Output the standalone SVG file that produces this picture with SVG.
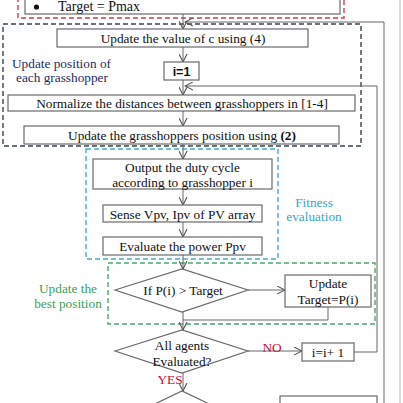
<svg xmlns="http://www.w3.org/2000/svg" width="403" height="403" viewBox="0 0 403 403">
<defs>
<style>
.box{fill:#fff;stroke:#6a6a6a;stroke-width:1.2}
.t{font-family:"Liberation Serif","Times New Roman",serif;font-size:13.3px;fill:#111;text-anchor:middle}
.c{fill:none;stroke:#666;stroke-width:1}
.dash{fill:none;stroke-width:1.4;stroke-dasharray:5,3}
</style>
<marker id="ah" viewBox="0 0 10 10" refX="9" refY="5" markerWidth="9" markerHeight="9" markerUnits="userSpaceOnUse" orient="auto">
<path d="M0,0.5 L9,5 L0,9.5" fill="none" stroke="#555" stroke-width="1.2"/>
</marker>
</defs>
<rect width="403" height="403" fill="#fff"/>
<line x1="400" y1="0" x2="400" y2="403" stroke="#bbb" stroke-width="1"/>

<g id="groups">
<rect x="18" y="-10" width="326" height="28" class="dash" stroke="#d23a52"/>
<rect x="3" y="24" width="358" height="122" class="dash" stroke="#3a4458"/>
<rect x="86" y="149" width="192" height="110" class="dash" stroke="#48aac8"/>
<rect x="108" y="263" width="267" height="61" class="dash" stroke="#4fa46c"/>
</g>

<g id="connectors">
<line x1="183" y1="14" x2="183" y2="29" class="c" marker-end="url(#ah)"/>
<line x1="183" y1="47" x2="183" y2="62" class="c" marker-end="url(#ah)"/>
<line x1="183" y1="80" x2="183" y2="95" class="c" marker-end="url(#ah)"/>
<line x1="183" y1="111" x2="183" y2="126" class="c" marker-end="url(#ah)"/>
<line x1="183" y1="144" x2="183" y2="159" class="c" marker-end="url(#ah)"/>
<line x1="183" y1="189" x2="183" y2="205" class="c" marker-end="url(#ah)"/>
<line x1="183" y1="222" x2="183" y2="237" class="c" marker-end="url(#ah)"/>
<line x1="183" y1="255" x2="183" y2="269" class="c" marker-end="url(#ah)"/>
<line x1="248" y1="290" x2="285" y2="290" class="c" marker-end="url(#ah)"/>
<polyline points="328,307 328,320 183,320" class="c"/>
<line x1="183" y1="312" x2="183" y2="330" class="c" marker-end="url(#ah)"/>
<line x1="248" y1="351" x2="302" y2="351" class="c" marker-end="url(#ah)"/>
<polyline points="354,352 377,352 377,86 185,86" class="c" marker-end="url(#ah)"/>
<line x1="183" y1="373" x2="183" y2="391" class="c" marker-end="url(#ah)"/>
<polyline points="384,403 384,22 185,22" class="c" marker-end="url(#ah)"/>
</g>

<g id="init">
<rect x="25" y="-10" width="315" height="24" class="box"/>
<circle cx="36.5" cy="7" r="2.6" fill="#111"/>
<text x="58" y="11" class="t" style="text-anchor:start;font-size:14px">Target = Pmax</text>
</g>

<g id="label-update-position">
<text x="12" y="68" class="t" style="text-anchor:start;fill:#1f2c5c">Update position of</text>
<text x="16" y="82" class="t" style="text-anchor:start;fill:#1f2c5c">each grasshopper</text>
</g>

<g id="update-c">
<rect x="57" y="29" width="251" height="18" class="box"/>
<text x="183" y="43" class="t">Update the value of c using (4)</text>
</g>

<g id="i1">
<rect x="164" y="62" width="35" height="18" class="box"/>
<text x="181.5" y="76" class="t" style="font-family:'Liberation Sans',Arial,sans-serif;font-weight:bold;font-size:12.5px">i=1</text>
</g>

<g id="normalize">
<rect x="8" y="95" width="347" height="16" class="box"/>
<text x="182" y="108" class="t">Normalize the distances between grasshoppers  in [1-4]</text>
</g>

<g id="update-pos">
<rect x="24" y="126" width="315" height="18" class="box"/>
<text x="182" y="140" class="t">Update the grasshoppers position using <tspan font-weight="bold">(2)</tspan></text>
</g>

<g id="output-duty">
<rect x="93" y="159" width="179" height="30" class="box"/>
<text x="182.5" y="172" class="t">Output the duty cycle</text>
<text x="182.5" y="186.5" class="t">according to grasshopper i</text>
</g>

<g id="sense">
<rect x="103" y="205" width="159" height="17" class="box"/>
<text x="182.5" y="218.5" class="t">Sense Vpv, Ipv of PV array</text>
</g>

<g id="evaluate">
<rect x="103" y="237" width="159" height="18" class="box"/>
<text x="182.5" y="251" class="t">Evaluate the power Ppv</text>
</g>

<g id="label-fitness">
<text x="314" y="207" class="t" style="fill:#3aa4c6">Fitness</text>
<text x="314" y="221" class="t" style="fill:#3aa4c6">evaluation</text>
</g>

<g id="label-best">
<text x="68" y="293" class="t" style="fill:#3c9e5c">Update the</text>
<text x="68" y="308" class="t" style="fill:#3c9e5c">best position</text>
</g>

<g id="if-target">
<polygon points="115,290 182,269 248,290 182,312" class="box"/>
<text x="183" y="295" class="t">If P(i) &gt; Target</text>
</g>

<g id="update-target">
<rect x="285" y="275" width="86" height="32" class="box"/>
<text x="328" y="288" class="t">Update</text>
<text x="328" y="304" class="t">Target=P(i)</text>
</g>

<g id="all-agents">
<polygon points="115,351 182,330 248,351 182,373" class="box"/>
<text x="182" y="350" class="t">All agents</text>
<text x="182" y="366" class="t">Evaluated?</text>
</g>

<g id="inc">
<rect x="302" y="343" width="52" height="18" class="box"/>
<text x="328" y="357" class="t">i=i+ 1</text>
</g>

<g id="edge-labels">
<text x="272" y="352" class="t" style="fill:#c8102e">NO</text>
<text x="170" y="384" class="t" style="fill:#c8102e">YES</text>
</g>

<g id="next-decision">
<polygon points="136,413 182,391 228,413 182,435" class="box"/>
</g>

<g id="next-box">
<rect x="280" y="396" width="97" height="30" class="box"/>
</g>
</svg>
